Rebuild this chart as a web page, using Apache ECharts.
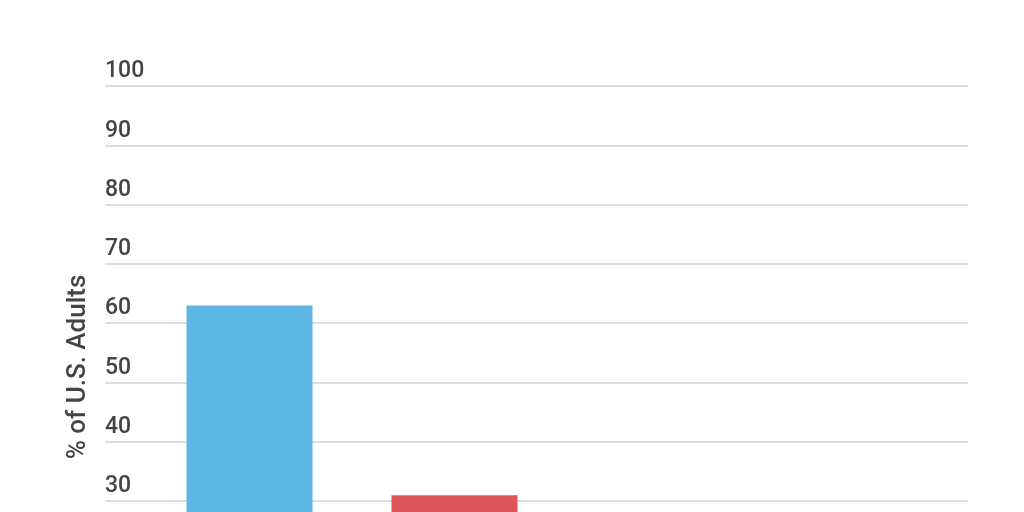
<!DOCTYPE html>
<html>
<head>
<meta charset="utf-8">
<script src="https://cdn.jsdelivr.net/npm/echarts@6/dist/echarts.min.js"></script>
<style>
html,body{margin:0;padding:0;background:#fff;overflow:hidden;}
#chart{width:1024px;height:700px;}
</style>
</head>
<body>
<div id="chart"></div>
<script>
// Data
var categories = ['Group A', 'Group B', 'Group C', 'Group D'];
var values = [63, 31, 4, 2];
var barColors = ['#5DB6E3', '#DD5558', '#F2A93B', '#9E9E9E'];
var yTicks = [0, 10, 20, 30, 40, 50, 60, 70, 80, 90, 100];
var yAxisTitle = '% of U.S. Adults';

var chart = echarts.init(document.getElementById('chart'));
var textColor = '#444444';
var font = 'Roboto';

var option = {
  animation: false,
  backgroundColor: '#ffffff',
  grid: [
    { left: 105, right: 56, top: 86, height: 593 },
    { left: 147, right: 57, top: 86, height: 593 }
  ],
  xAxis: [
    { type: 'category', gridIndex: 0, data: categories, show: false },
    { type: 'category', gridIndex: 1, data: categories, show: false }
  ],
  yAxis: [
    {
      type: 'value', gridIndex: 0,
      min: yTicks[0], max: yTicks[yTicks.length - 1], interval: 10,
      axisLine: { show: false },
      axisTick: { show: false },
      splitLine: { show: true, lineStyle: { color: '#dddddd', width: 2 } },
      axisLabel: {
        inside: true,
        margin: 0,
        align: 'left',
        verticalAlign: 'bottom',
        padding: [0, 0, 3, 0],
        color: textColor,
        fontFamily: font,
        fontWeight: 500,
        fontSize: 23
      }
    },
    {
      type: 'value', gridIndex: 1,
      min: yTicks[0], max: yTicks[yTicks.length - 1], interval: 10,
      show: false
    }
  ],
  graphic: [
    {
      type: 'text',
      x: 78, y: 367,
      rotation: Math.PI / 2,
      style: {
        text: yAxisTitle,
        fill: textColor,
        font: '500 26px Roboto',
        textAlign: 'center',
        textVerticalAlign: 'middle'
      }
    }
  ],
  series: [
    {
      type: 'bar',
      xAxisIndex: 1, yAxisIndex: 1,
      barWidth: 126,
      data: values.map(function (v, i) {
        return { value: v, itemStyle: { color: barColors[i] } };
      })
    }
  ]
};
chart.setOption(option);
</script>
</body>
</html>
